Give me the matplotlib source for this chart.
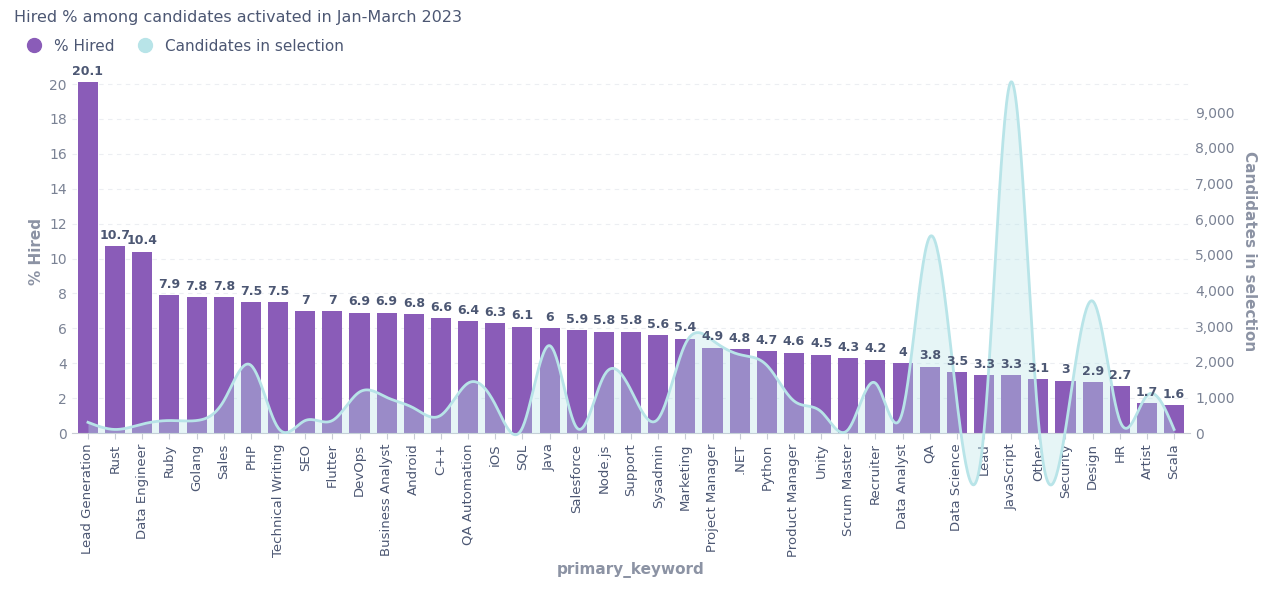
import matplotlib.pyplot as plt
import numpy as np
from matplotlib.lines import Line2D

categories = ["Lead Generation", "Rust", "Data Engineer", "Ruby", "Golang", "Sales", "PHP",
              "Technical Writing", "SEO", "Flutter", "DevOps", "Business Analyst", "Android",
              "C++", "QA Automation", "iOS", "SQL", "Java", "Salesforce", "Node.js", "Support",
              "Sysadmin", "Marketing", "Project Manager", ".NET", "Python", "Product Manager",
              "Unity", "Scrum Master", "Recruiter", "Data Analyst", "QA", "Data Science", "Lead",
              "JavaScript", "Other", "Security", "Design", "HR", "Artist", "Scala"]
hired = [20.1, 10.7, 10.4, 7.9, 7.8, 7.8, 7.5, 7.5, 7, 7, 6.9, 6.9, 6.8, 6.6, 6.4, 6.3, 6.1,
         6, 5.9, 5.8, 5.8, 5.6, 5.4, 4.9, 4.8, 4.7, 4.6, 4.5, 4.3, 4.2, 4, 3.8, 3.5, 3.3, 3.3,
         3.1, 3, 2.9, 2.7, 1.7, 1.6]
candidates = [300, 100, 250, 350, 350, 900, 1900, 150, 350, 350, 1150, 1000, 700, 500, 1400,
              800, 150, 2450, 150, 1600, 1200, 400, 2500, 2600, 2200, 1900, 900, 600, 100,
              1400, 600, 5500, 900, 50, 9850, 350, 100, 3700, 350, 1050, 100]

PURPLE = "#8A5CB8"
TEAL = "#B8E4E8"
TEXT = "#4C5773"


def natural_spline(x, y, xs):
    n = len(x)
    h = np.diff(x)
    A = np.zeros((n, n))
    b = np.zeros(n)
    A[0, 0] = A[-1, -1] = 1
    for i in range(1, n - 1):
        A[i, i - 1] = h[i - 1]
        A[i, i] = 2 * (h[i - 1] + h[i])
        A[i, i + 1] = h[i]
        b[i] = 6 * ((y[i + 1] - y[i]) / h[i] - (y[i] - y[i - 1]) / h[i - 1])
    M = np.linalg.solve(A, b)
    idx = np.clip(np.searchsorted(x, xs) - 1, 0, n - 2)
    x0, x1 = x[idx], x[idx + 1]
    hh = x1 - x0
    t0, t1 = x1 - xs, xs - x0
    return (M[idx] * t0 ** 3 / (6 * hh) + M[idx + 1] * t1 ** 3 / (6 * hh)
            + (y[idx] / hh - M[idx] * hh / 6) * t0 + (y[idx + 1] / hh - M[idx + 1] * hh / 6) * t1)


fig = plt.figure(figsize=(12.8, 5.94), dpi=100)
ax = fig.add_axes([0.056, 0.271, 0.874, 0.611])
xpos = np.arange(len(categories))
ax.bar(xpos, hired, width=0.74, color=PURPLE, zorder=2)
ax.set_ylim(0, 20.8)
ax.set_xlim(-0.6, len(categories) - 0.4)
ax.set_yticks(range(0, 21, 2))
ax.grid(axis="y", color="#ECEEF2", linestyle=(0, (4, 4)), linewidth=0.8, zorder=0)
ax.set_axisbelow(True)
ax.set_xticks(xpos)
ax.set_xticklabels(categories, rotation=90, fontsize=9.5, color=TEXT)
ax.tick_params(axis="y", colors="#7A8294", labelsize=10, length=0)
ax.tick_params(axis="x", length=4, color="#C8CCD4")
for s in ["top", "right", "left"]:
    ax.spines[s].set_visible(False)
ax.spines["bottom"].set_color("#C8CCD4")
ax.set_ylabel("% Hired", color="#8C93A4", fontsize=11, fontweight="bold")
ax.set_xlabel("primary_keyword", color="#8C93A4", fontsize=11, fontweight="bold")

ax2 = ax.twinx()
xs = np.linspace(0, len(categories) - 1, 1200)
ys = natural_spline(xpos.astype(float), np.array(candidates, float), xs)
ax2.fill_between(xs, 0, ys, color=TEAL, alpha=0.35, zorder=3, linewidth=0, clip_on=False)
ax2.plot(xs, ys, color=TEAL, linewidth=2, zorder=4, clip_on=False)
ax2.set_ylim(0, 10177)
ax2.set_yticks(range(0, 10000, 1000))
ax2.set_yticklabels([f"{v:,}" for v in range(0, 10000, 1000)])
ax2.tick_params(axis="y", colors="#7A8294", labelsize=10, length=0)
for s in ["top", "right", "left", "bottom"]:
    ax2.spines[s].set_visible(False)
ax2.set_ylabel("Candidates in selection", color="#8C93A4", fontsize=11, fontweight="bold",
               rotation=270, labelpad=16)
for x, v in zip(xpos, hired):
    ax2.text(x, v + 0.25, f"{v:g}", ha="center", va="bottom", fontsize=9,
             fontweight="bold", color=TEXT, zorder=6, transform=ax.transData)

fig.text(0.011, 0.97, "Hired % among candidates activated in Jan-March 2023", fontsize=11.5,
         color=TEXT, va="center")
handles = [Line2D([], [], marker="o", linestyle="", markersize=10, color=PURPLE),
           Line2D([], [], marker="o", linestyle="", markersize=10, color=TEAL)]
fig.legend(handles, ["% Hired", "Candidates in selection"], loc="center left",
           bbox_to_anchor=(0.004, 0.922), ncol=2, frameon=False, fontsize=11,
           handletextpad=0.3, columnspacing=1.0, labelcolor=TEXT)
fig.savefig("out.png", dpi=100)
